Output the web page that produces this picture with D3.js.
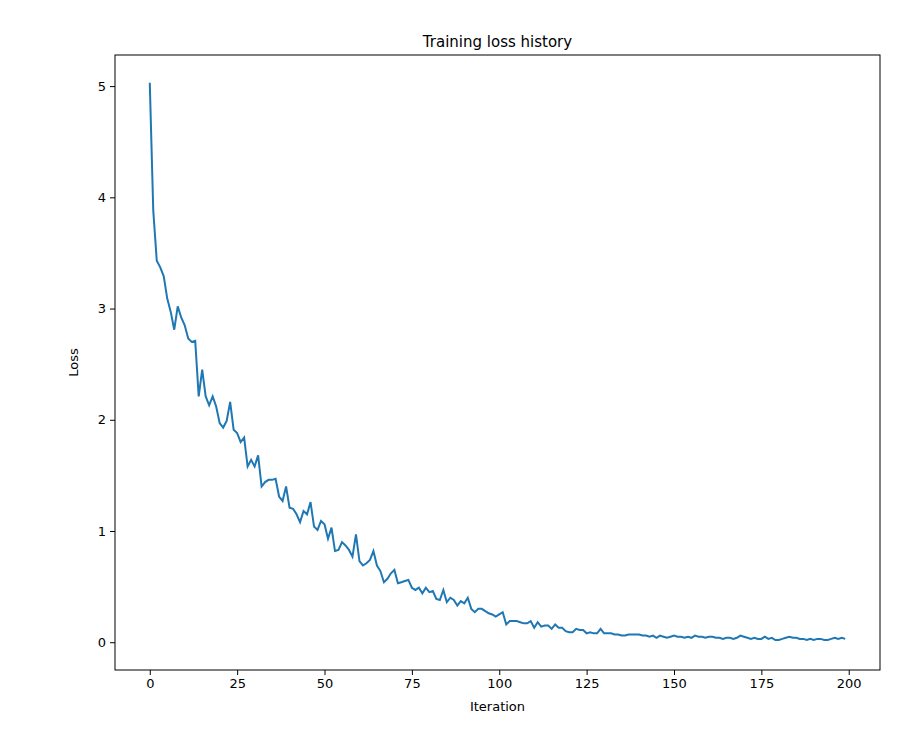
<!DOCTYPE html>
<html>
<head>
<meta charset="utf-8">
<script src="https://cdn.jsdelivr.net/npm/d3@7"></script>
<style>
  body { margin: 0; background: #fff; }
  text { font-family: "DejaVu Sans", sans-serif; }
  .tick text { font-size: 13px; fill: #000; }
  .tick line, .domain { stroke: #000; }
</style>
</head>
<body>
<svg width="924" height="741"></svg>
<script>
const title = "Training loss history";
const xLabel = "Iteration";
const yLabel = "Loss";
const xTicks = [0, 25, 50, 75, 100, 125, 150, 175, 200];
const yTicks = [0, 1, 2, 3, 4, 5];

const loss = [
  5.03, 3.88, 3.43, 3.37, 3.29, 3.09, 2.97, 2.81, 3.02, 2.92,
  2.85, 2.73, 2.70, 2.71, 2.21, 2.45, 2.21, 2.13, 2.21, 2.12,
  1.97, 1.93, 1.99, 2.16, 1.91, 1.88, 1.80, 1.84, 1.58, 1.64,
  1.58, 1.68, 1.40, 1.44, 1.46, 1.46, 1.47, 1.31, 1.27, 1.40,
  1.21, 1.20, 1.15, 1.08, 1.18, 1.15, 1.26, 1.04, 1.01, 1.09,
  1.06, 0.93, 1.03, 0.82, 0.83, 0.90, 0.87, 0.83, 0.77, 0.97,
  0.73, 0.69, 0.71, 0.74, 0.82, 0.69, 0.64, 0.54, 0.57, 0.62,
  0.65, 0.53, 0.54, 0.55, 0.56, 0.49, 0.47, 0.49, 0.44, 0.49,
  0.45, 0.46, 0.39, 0.38, 0.47, 0.36, 0.40, 0.38, 0.33, 0.37,
  0.35, 0.40, 0.30, 0.27, 0.30, 0.30, 0.28, 0.26, 0.25, 0.23,
  0.25, 0.27, 0.16, 0.19, 0.19, 0.19, 0.18, 0.17, 0.17, 0.19,
  0.13, 0.18, 0.14, 0.15, 0.15, 0.12, 0.16, 0.13, 0.13, 0.10,
  0.09, 0.09, 0.12, 0.11, 0.11, 0.08, 0.09, 0.08, 0.08, 0.12,
  0.08, 0.08, 0.08, 0.07, 0.07, 0.06, 0.06, 0.07, 0.07, 0.07,
  0.07, 0.06, 0.06, 0.05, 0.06, 0.04, 0.06, 0.05, 0.04, 0.05,
  0.06, 0.05, 0.05, 0.04, 0.05, 0.04, 0.06, 0.05, 0.05, 0.04,
  0.05, 0.05, 0.04, 0.04, 0.03, 0.04, 0.04, 0.03, 0.04, 0.06,
  0.05, 0.04, 0.03, 0.04, 0.03, 0.03, 0.05, 0.03, 0.04, 0.02,
  0.02, 0.03, 0.04, 0.05, 0.04, 0.04, 0.03, 0.03, 0.02, 0.03,
  0.02, 0.03, 0.03, 0.02, 0.02, 0.03, 0.04, 0.03, 0.04, 0.03
];

const svg = d3.select("svg");
const m = { left: 115, right: 880, top: 55, bottom: 670 };

const x = d3.scaleLinear().domain([-9.95, 208.95]).range([m.left, m.right]);
const y = d3.scaleLinear().domain([-0.2496, 5.2796]).range([m.bottom, m.top]);

svg.append("g")
  .attr("transform", `translate(0,${m.bottom})`)
  .call(d3.axisBottom(x).tickValues(xTicks).tickFormat(d3.format("d")).tickSize(5).tickPadding(4))
  .call(g => g.select(".domain").remove());

svg.append("g")
  .attr("transform", `translate(${m.left},0)`)
  .call(d3.axisLeft(y).tickValues(yTicks).tickFormat(d3.format("d")).tickSize(5).tickPadding(4))
  .call(g => g.select(".domain").remove());

svg.append("rect")
  .attr("x", m.left).attr("y", m.top)
  .attr("width", m.right - m.left).attr("height", m.bottom - m.top)
  .attr("fill", "none").attr("stroke", "#000").attr("stroke-width", 1);

const line = d3.line()
  .x((d, i) => x(i))
  .y(d => y(d));

svg.append("path")
  .datum(loss)
  .attr("d", line)
  .attr("fill", "none")
  .attr("stroke", "#1f77b4")
  .attr("stroke-width", 2);

svg.append("text")
  .attr("x", (m.left + m.right) / 2).attr("y", m.top - 8)
  .attr("text-anchor", "middle").attr("font-size", 15)
  .text(title);

svg.append("text")
  .attr("x", (m.left + m.right) / 2).attr("y", 711)
  .attr("text-anchor", "middle").attr("font-size", 13)
  .text(xLabel);

svg.append("text")
  .attr("transform", `translate(78,${(m.top + m.bottom) / 2}) rotate(-90)`)
  .attr("text-anchor", "middle").attr("font-size", 13)
  .text(yLabel);
</script>
</body>
</html>
